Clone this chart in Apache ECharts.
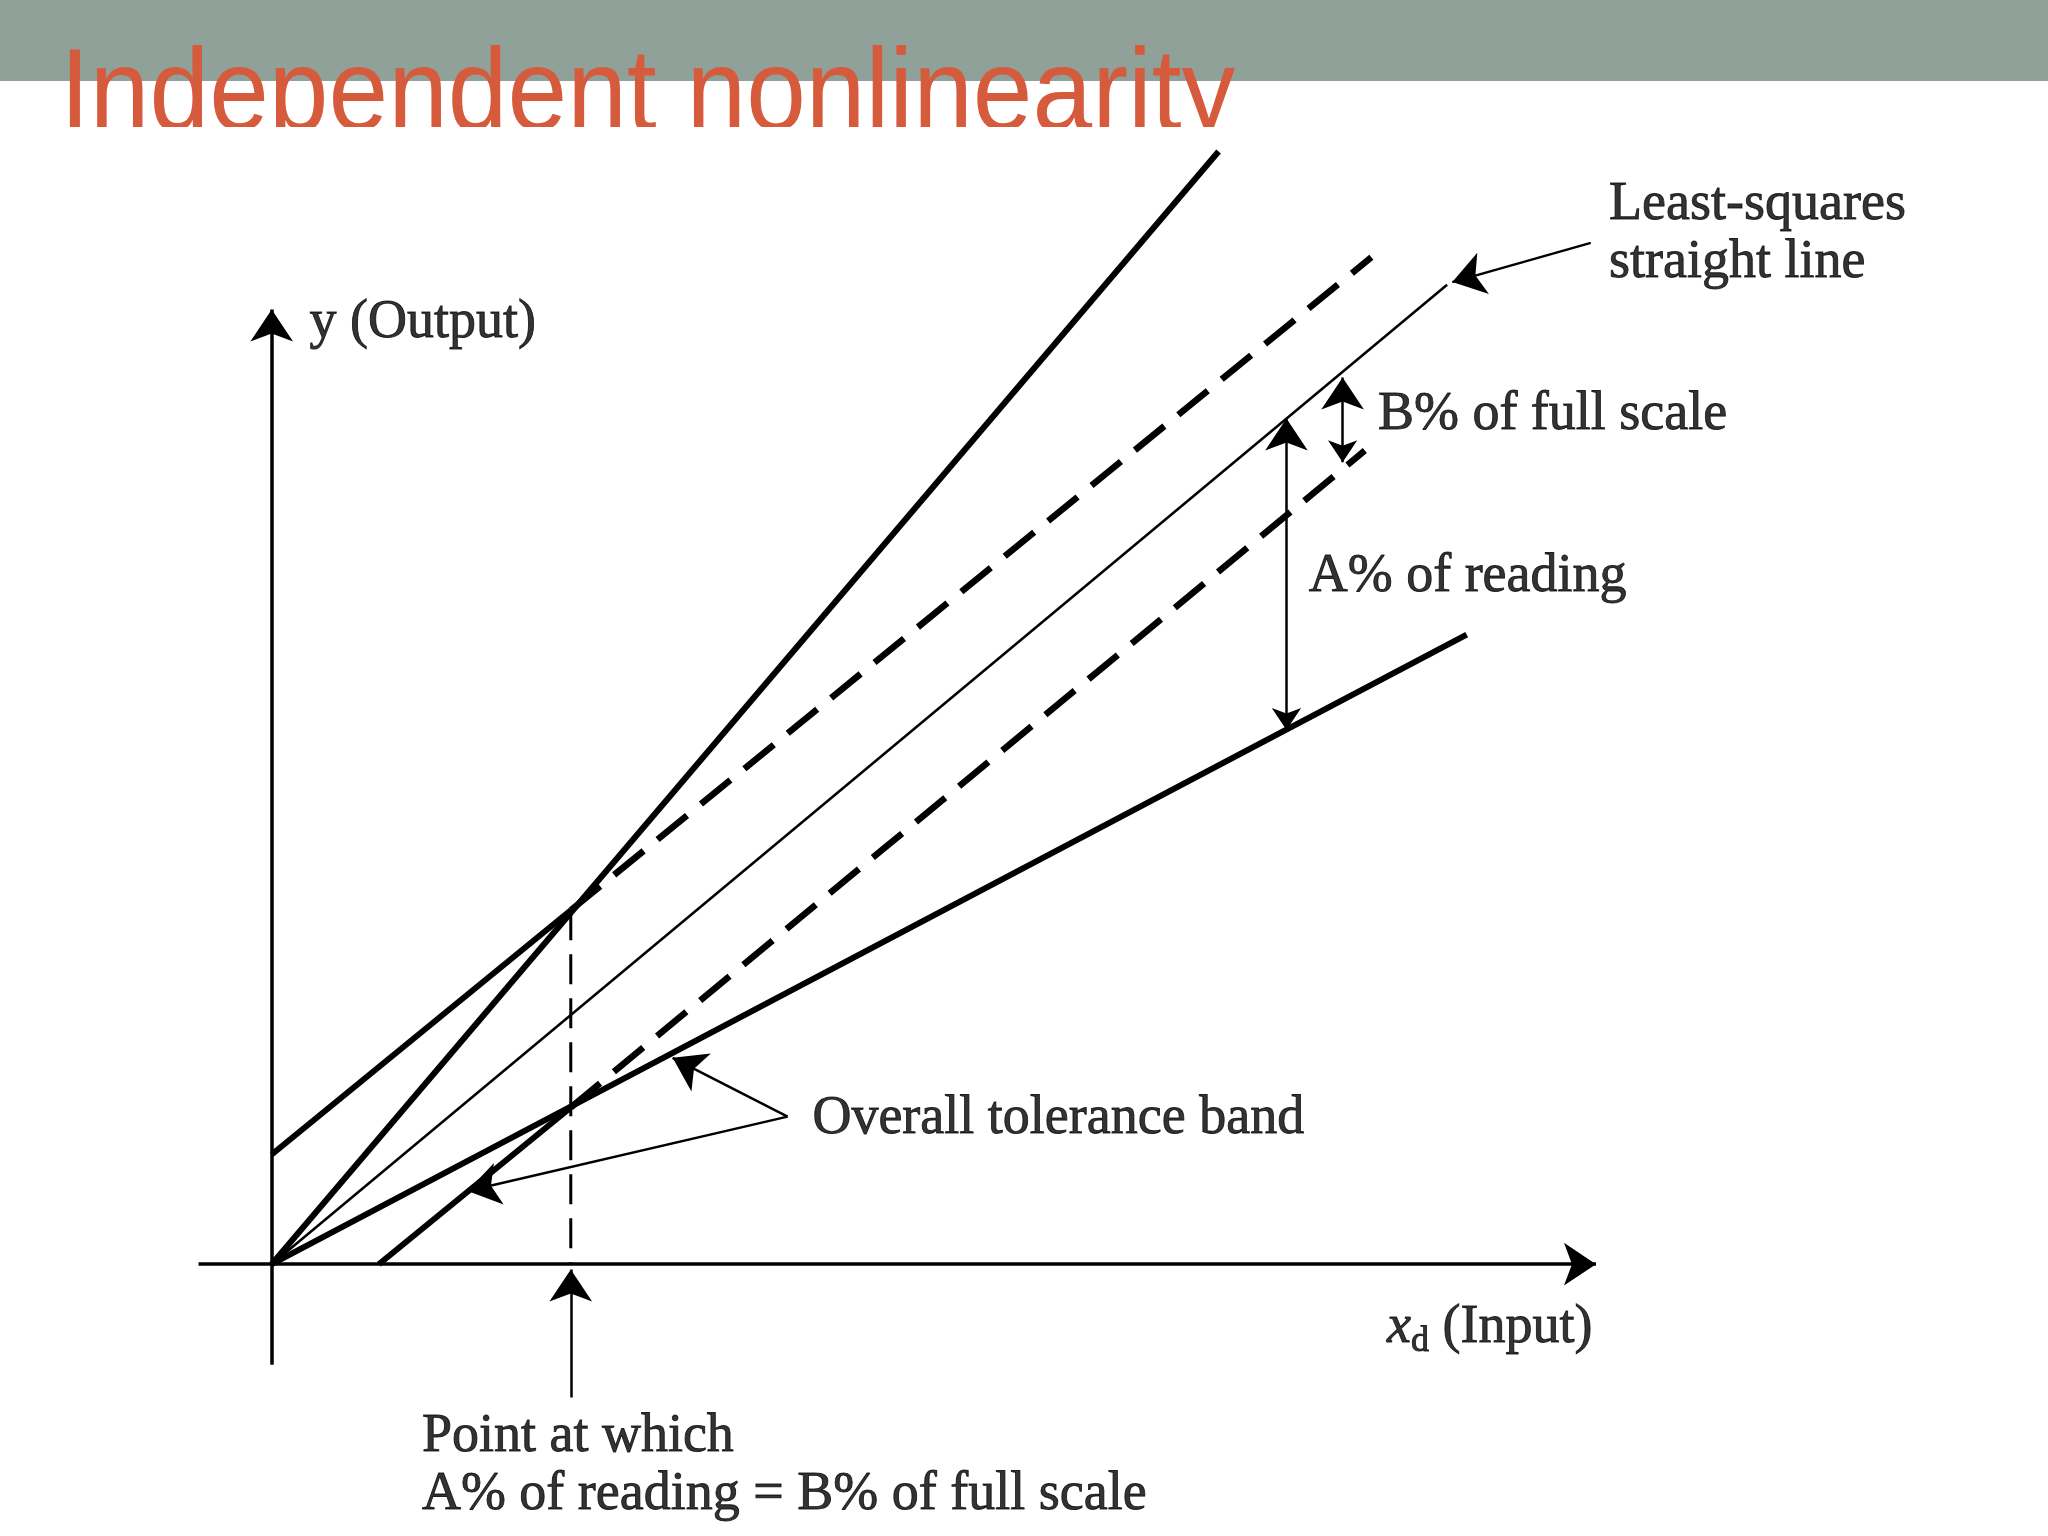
<!DOCTYPE html>
<html>
<head>
<meta charset="utf-8">
<title>Independent nonlinearity</title>
<script src="https://cdn.jsdelivr.net/npm/echarts@6/dist/echarts.min.js"></script>
<style>
  html, body { margin: 0; padding: 0; background: #fff; }
  #chart { width: 2048px; height: 1536px; }
</style>
</head>
<body>
<div id="chart"></div>
<script>
// diagram units: origin where the axes cross, input to the right, output up
const steepLine = [[0, 0], [72.5, 85.2]];
const leastSquaresLine = [[0, 0], [90.0, 75.0]];
const upperBandSolid = [[0, 8.4], [22.9, 27.1]];
const upperBandDashed = [[22.9, 27.1], [84.2, 77.1]];
const lowerBandSolid = [[8.2, 0], [22.9, 12.0]];
const lowerBandDashed = [[22.9, 12.0], [83.7, 62.3]];
const lowerReadingLine = [[0, 0], [91.5, 48.2]];
const crossoverDrop = [[22.9, 27.1], [22.9, 0]];

// arrows
const axisX = [[-5.6, 0], [101.4, 0]];
const axisY = [[0, -7.7], [0, 73.1]];
const crossoverPointer = [[22.9, -10.2], [22.9, -0.4]];
const leastSquaresPointer = [[101.0, 78.2], [90.4, 75.2]];
const bandPointers = [
  [[39.5, 11.3], [30.7, 15.8]],
  [[39.5, 11.3], [15.0, 5.6]]
];
const readingSpan = [[77.7, 40.9], [77.7, 64.75]];
const fullScaleSpan = [[82.0, 61.4], [82.0, 67.9]];

// text labels, anchored at their left edge / vertical middle
const labelTexts = [
  'y (Output)',
  '{x|x}{d|d}{t| (Input)}',
  'Least-squares\nstraight line',
  'B% of full scale',
  'A% of reading',
  'Overall tolerance band',
  'Point at which\nA% of reading = B% of full scale'
];
const labelPoints = [
  [2.9, 72.1],
  [85.4, -4.9],
  [102.4, 78.9],
  [84.7, 65.0],
  [79.4, 52.6],
  [41.4, 11.1],
  [11.5, -15.45]
];

const titleText = 'Independent nonlinearity';

const ink = '#000';
const serif = 'Liberation Serif';

const chart = echarts.init(document.getElementById('chart'), null, { renderer: 'canvas' });

function plain(data, width, dash) {
  return {
    type: 'line',
    data: data,
    symbol: 'none',
    silent: true,
    z: 3,
    lineStyle: { color: ink, width: width, type: dash || 'solid' }
  };
}

function arrows(list, both, width) {
  return {
    type: 'lines',
    coordinateSystem: 'cartesian2d',
    silent: true,
    z: 4,
    symbol: both ? ['arrow', 'arrow'] : ['none', 'arrow'],
    symbolSize: [22, 32],
    lineStyle: { color: ink, width: width, opacity: 1, curveness: 0 },
    data: list.map(c => ({ coords: c }))
  };
}

const textBase = { fontFamily: serif, color: ink, textBorderColor: ink, textBorderWidth: 0.9 };

chart.setOption({
  backgroundColor: '#fff',
  animation: false,
  grid: { left: 141.1, top: 23.5, width: 1893.7, height: 1501.9, containLabel: false },
  xAxis: { type: 'value', min: -10, max: 135, show: false },
  yAxis: { type: 'value', min: -20, max: 95, show: false },
  graphic: [
    { type: 'rect', z: 1, shape: { x: 0, y: 0, width: 2048, height: 81 }, style: { fill: '#8fa198' } },
    {
      type: 'text', z: 2, x: 60, y: 98, scaleX: 0.958, scaleY: 1.05,
      style: {
        text: titleText, fill: '#d65a3c', fontFamily: 'Liberation Sans',
        fontSize: 112, verticalAlign: 'middle', align: 'left'
      }
    },
    // the slide clips the title's descenders
    { type: 'rect', z: 3, shape: { x: 0, y: 127, width: 1400, height: 40 }, style: { fill: '#fff' } }
  ],
  series: [
    plain(steepLine, 6),
    plain(leastSquaresLine, 2.5),
    plain(upperBandSolid, 6),
    plain(upperBandDashed, 6.5, [38, 18]),
    plain(lowerBandSolid, 6),
    plain(lowerBandDashed, 6.5, [38, 18]),
    plain(lowerReadingLine, 6),
    plain(crossoverDrop, 3, [30, 14]),
    arrows([axisX, axisY], false, 3.5),
    arrows([crossoverPointer], false, 2.5),
    arrows([leastSquaresPointer], false, 2.5),
    arrows(bandPointers, false, 2.5),
    arrows([readingSpan, fullScaleSpan], true, 2.5),
    {
      type: 'scatter',
      symbolSize: 0,
      silent: true,
      z: 5,
      data: labelPoints.map((p, i) => ({ value: p, name: labelTexts[i] })),
      label: Object.assign({
        show: true,
        position: 'right',
        distance: 0,
        formatter: p => p.name,
        fontSize: 54,
        lineHeight: 58,
        align: 'left',
        verticalAlign: 'middle',
        rich: {
          x: Object.assign({ fontSize: 54, fontStyle: 'italic' }, textBase),
          d: Object.assign({ fontSize: 36, padding: [26, 0, 0, 0] }, textBase),
          t: Object.assign({ fontSize: 54 }, textBase)
        }
      }, textBase)
    }
  ]
});
</script>
</body>
</html>
